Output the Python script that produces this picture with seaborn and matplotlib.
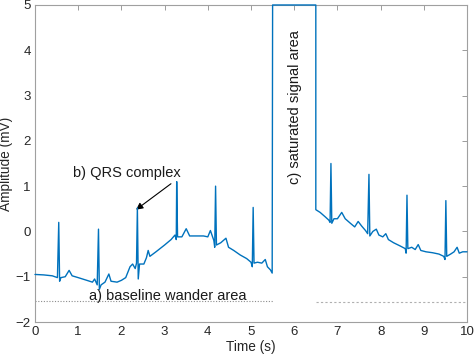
import matplotlib
matplotlib.use("Agg")
import matplotlib.pyplot as plt
import seaborn as sns
import pandas as pd

# ECG trace (time in s, amplitude in mV)
time_s = [0.00, 0.20, 0.40, 0.52, 0.55, 0.57, 0.60, 0.70, 0.79, 0.86, 1.00, 1.20, 1.33, 1.38, 1.44,
          1.47, 1.49, 1.53, 1.62, 1.71, 1.76, 1.90, 2.00, 2.10, 2.20, 2.26, 2.32, 2.35, 2.37, 2.39,
          2.42, 2.52, 2.58, 2.62, 2.66, 2.80, 3.00, 3.15, 3.24, 3.27, 3.28, 3.30, 3.40, 3.50, 3.58,
          3.75, 3.90, 4.00, 4.06, 4.14, 4.16, 4.18, 4.20, 4.30, 4.42, 4.48, 4.60, 4.75, 4.90, 5.00,
          5.03, 5.05, 5.07, 5.15, 5.25, 5.33, 5.38, 5.45, 5.49,
          5.50, 6.50,
          6.50, 6.60, 6.72, 6.80, 6.83, 6.85, 6.87, 6.92, 7.00, 7.10, 7.18, 7.30, 7.40, 7.48, 7.56,
          7.65, 7.70, 7.73, 7.75, 7.82, 7.90, 7.96, 8.05, 8.12, 8.18, 8.30, 8.45, 8.57, 8.59, 8.61,
          8.63, 8.72, 8.80, 8.87, 8.93, 9.05, 9.20, 9.35, 9.46, 9.49, 9.51, 9.53, 9.62, 9.70, 9.77,
          9.82, 9.90, 10.00]
amplitude_mv = [-0.95, -0.96, -0.98, -1.02, 0.20, -1.10, -1.02, -1.00, -0.86, -0.98, -1.02, -1.08, -1.12, -1.05, -1.18,
                0.05, -1.28, -1.18, -1.12, -0.94, -1.10, -1.12, -1.08, -1.02, -0.78, -0.72, -0.82, -0.70, 0.52, -1.05,
                -0.72, -0.72, -0.58, -0.42, -0.55, -0.45, -0.30, -0.18, -0.08, -0.18, 1.10, -0.12, -0.12, 0.06, -0.10,
                -0.10, -0.10, -0.12, 0.02, -0.20, -0.35, 1.00, -0.30, -0.25, -0.15, -0.35, -0.42, -0.52, -0.60, -0.68,
                -0.78, 0.53, -0.70, -0.68, -0.70, -0.62, -0.78, -0.85, -0.92,
                5.00, 5.00,
                0.48, 0.42, 0.32, 0.25, 0.20, 1.50, 0.18, 0.28, 0.28, 0.42, 0.28, 0.18, 0.10, 0.22, 0.12,
                0.02, -0.05, 1.26, -0.10, 0.00, 0.05, -0.08, -0.12, -0.05, -0.18, -0.25, -0.32, -0.38, -0.48, 0.80,
                -0.38, -0.35, -0.40, -0.29, -0.42, -0.45, -0.47, -0.50, -0.55, -0.62, 0.68, -0.55, -0.50, -0.45, -0.35,
                -0.48, -0.45, -0.45]

# baseline-wander guide lines
guide_left_x = [0.0, 5.5]
guide_left_y = [-1.53, -1.53]
guide_right_x = [6.5, 10.0]
guide_right_y = [-1.56, -1.56]

x_ticks = [0, 1, 2, 3, 4, 5, 6, 7, 8, 9, 10]
y_ticks = [-2, -1, 0, 1, 2, 3, 4, 5]

sns.set_theme(style="white")
plt.rcParams['font.family'] = ['Liberation Sans', 'DejaVu Sans']

df = pd.DataFrame({"t": time_s, "v": amplitude_mv})

fig = plt.figure(figsize=(4.74, 3.56), dpi=100)
ax = fig.add_axes([0.0738, 0.0955, 0.9115, 0.8905])

sns.lineplot(data=df, x="t", y="v", sort=False, estimator=None, ax=ax,
             color="#0072BD", linewidth=1.0)
trace = ax.lines[0]
trace.set_clip_on(False)
trace.set_zorder(5)

ax.plot(guide_left_x, guide_left_y, linestyle=(0, (1, 1.5)), color="#8c8c8c", linewidth=0.8)
ax.plot(guide_right_x, guide_right_y, linestyle=(0, (2, 2)), color="#b0b0b0", linewidth=0.8)

ax.text(1.25, -1.42, "a) baseline wander area", fontsize=10.5, color="#1a1a1a",
        ha="left", va="center")
ax.annotate("b) QRS complex", xy=(2.34, 0.48), xytext=(0.88, 1.28),
            fontsize=10.5, color="#1a1a1a", ha="left", va="center",
            arrowprops=dict(arrowstyle="-|>", color="black", lw=0.8,
                            shrinkA=0, shrinkB=0, mutation_scale=10,
                            relpos=(0.95, 0.0)))
ax.text(6.02, 2.75, "c) saturated signal area", fontsize=10.5, color="#1a1a1a",
        rotation=90, ha="center", va="center")

ax.set_xlim(0, 10)
ax.set_ylim(-2, 5)
ax.set_xticks(x_ticks)
ax.set_yticks(y_ticks)
ax.set_xlabel("Time (s)", fontsize=9.8, color="#262626", labelpad=1)
ax.set_ylabel("Amplitude (mV)", fontsize=9.8, color="#262626", labelpad=2)
ax.tick_params(direction="in", length=3.5, width=0.6, color="#8c8c8c",
               labelsize=9.5, labelcolor="#262626", top=True, right=True, pad=3)
for s in ax.spines.values():
    s.set_color("#a0a0a0")
    s.set_linewidth(0.8)

fig.savefig("out.png", dpi=100)
